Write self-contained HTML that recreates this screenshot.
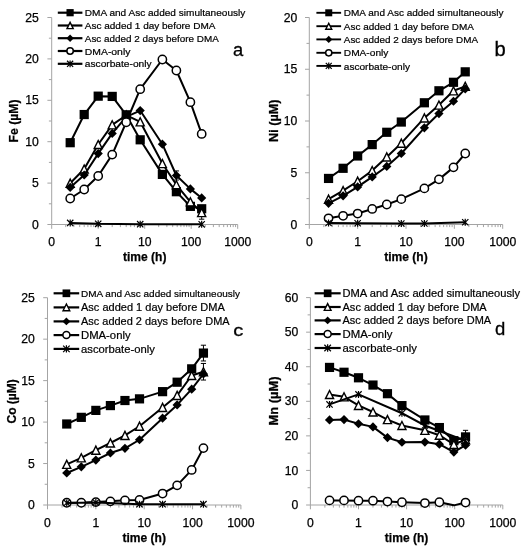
<!DOCTYPE html>
<html><head><meta charset="utf-8"><title>Figure</title>
<style>
html,body{margin:0;padding:0;background:#fff;}
svg{display:block;font-family:"Liberation Sans",sans-serif;}
</style></head><body>
<svg width="527" height="550" viewBox="0 0 527 550">
<rect width="527" height="550" fill="#fff"/>
<g>
<path d="M51.7 17.5V224.5H237.7" fill="none" stroke="#a4a4a4" stroke-width="1"/>
<path d="M47.4 224.5H51.7M48.9 203.8H51.7M47.4 183.1H51.7M48.9 162.4H51.7M47.4 141.7H51.7M48.9 121H51.7M47.4 100.3H51.7M48.9 79.6H51.7M47.4 58.9H51.7M48.9 38.2H51.7M47.4 17.5H51.7M51.7 224.5V228.8M65.7 224.5V227.1M73.89 224.5V227.1M79.7 224.5V227.1M84.2 224.5V227.1M87.88 224.5V227.1M91 224.5V227.1M93.69 224.5V227.1M96.07 224.5V227.1M98.2 224.5V228.8M112.2 224.5V227.1M120.39 224.5V227.1M126.2 224.5V227.1M130.7 224.5V227.1M134.38 224.5V227.1M137.5 224.5V227.1M140.19 224.5V227.1M142.57 224.5V227.1M144.7 224.5V228.8M158.7 224.5V227.1M166.89 224.5V227.1M172.7 224.5V227.1M177.2 224.5V227.1M180.88 224.5V227.1M184 224.5V227.1M186.69 224.5V227.1M189.07 224.5V227.1M191.2 224.5V228.8M205.2 224.5V227.1M213.39 224.5V227.1M219.2 224.5V227.1M223.7 224.5V227.1M227.38 224.5V227.1M230.5 224.5V227.1M233.19 224.5V227.1M235.57 224.5V227.1M237.7 224.5V228.8" fill="none" stroke="#a4a4a4" stroke-width="1"/>
<g font-size="12.2" fill="#000" stroke="#000" stroke-width="0.25">
<text x="38.9" y="228.65" text-anchor="end">0</text>
<text x="38.9" y="187.25" text-anchor="end">5</text>
<text x="38.9" y="145.85" text-anchor="end">10</text>
<text x="38.9" y="104.45" text-anchor="end">15</text>
<text x="38.9" y="63.05" text-anchor="end">20</text>
<text x="38.9" y="21.65" text-anchor="end">25</text>
<text x="51.7" y="246.1" text-anchor="middle">0</text>
<text x="98.2" y="246.1" text-anchor="middle">1</text>
<text x="144.7" y="246.1" text-anchor="middle">10</text>
<text x="191.2" y="246.1" text-anchor="middle">100</text>
<text x="237.7" y="246.1" text-anchor="middle">1000</text>
</g>
<text x="144.7" y="261.2" text-anchor="middle" font-size="12.2" font-weight="bold" stroke="#000" stroke-width="0.25" textLength="43.5" lengthAdjust="spacingAndGlyphs">time (h)</text>
<text transform="translate(18 121) rotate(-90)" text-anchor="middle" font-size="12.2" font-weight="bold" stroke="#000" stroke-width="0.25" textLength="42.9" lengthAdjust="spacingAndGlyphs">Fe (µM)</text>
<path d="M70.2 142.69L84.2 114.54L98.2 96.16L112.2 96.41L126.2 114.79L140.19 139.8L162.38 174.41L176.38 191.71L190.38 206.37L201.68 208.77" fill="none" stroke="#000" stroke-width="2.0" stroke-linejoin="round"/>
<rect x="65.6" y="138.09" width="9.2" height="9.2" fill="#000"/>
<rect x="79.6" y="109.94" width="9.2" height="9.2" fill="#000"/>
<rect x="93.6" y="91.56" width="9.2" height="9.2" fill="#000"/>
<rect x="107.6" y="91.81" width="9.2" height="9.2" fill="#000"/>
<rect x="121.6" y="110.19" width="9.2" height="9.2" fill="#000"/>
<rect x="135.59" y="135.2" width="9.2" height="9.2" fill="#000"/>
<rect x="157.78" y="169.81" width="9.2" height="9.2" fill="#000"/>
<rect x="171.78" y="187.11" width="9.2" height="9.2" fill="#000"/>
<rect x="185.78" y="201.77" width="9.2" height="9.2" fill="#000"/>
<rect x="197.08" y="204.17" width="9.2" height="9.2" fill="#000"/>
<path d="M70.2 183.18L84.2 169.02L98.2 144.52L112.2 124.81L126.2 115.2L140.19 121.83L162.38 163.56L176.38 184.76L190.38 201.81L201.68 212.58" fill="none" stroke="#000" stroke-width="2.0" stroke-linejoin="round"/>
<path d="M201.68 205.95V219.2M199.08 205.95H204.28M199.08 219.2H204.28" fill="none" stroke="#000" stroke-width="1"/>
<path d="M66.15 187.23L70.2 179.13L74.25 187.23Z" fill="#fff" stroke="#000" stroke-width="1.4" stroke-linejoin="miter"/>
<path d="M80.15 173.07L84.2 164.97L88.25 173.07Z" fill="#fff" stroke="#000" stroke-width="1.4" stroke-linejoin="miter"/>
<path d="M94.15 148.57L98.2 140.47L102.25 148.57Z" fill="#fff" stroke="#000" stroke-width="1.4" stroke-linejoin="miter"/>
<path d="M108.15 128.86L112.2 120.76L116.25 128.86Z" fill="#fff" stroke="#000" stroke-width="1.4" stroke-linejoin="miter"/>
<path d="M122.15 119.25L126.2 111.15L130.25 119.25Z" fill="#fff" stroke="#000" stroke-width="1.4" stroke-linejoin="miter"/>
<path d="M136.14 125.88L140.19 117.78L144.24 125.88Z" fill="#fff" stroke="#000" stroke-width="1.4" stroke-linejoin="miter"/>
<path d="M158.33 167.61L162.38 159.51L166.43 167.61Z" fill="#fff" stroke="#000" stroke-width="1.4" stroke-linejoin="miter"/>
<path d="M172.33 188.81L176.38 180.71L180.43 188.81Z" fill="#fff" stroke="#000" stroke-width="1.4" stroke-linejoin="miter"/>
<path d="M186.33 205.86L190.38 197.76L194.43 205.86Z" fill="#fff" stroke="#000" stroke-width="1.4" stroke-linejoin="miter"/>
<path d="M197.63 216.63L201.68 208.53L205.73 216.63Z" fill="#fff" stroke="#000" stroke-width="1.4" stroke-linejoin="miter"/>
<path d="M70.2 187.41L84.2 174.99L98.2 153.62L112.2 133.42L126.2 116.86L140.19 110.57L162.38 144.18L176.38 175.48L190.38 188.9L201.68 197.92" fill="none" stroke="#000" stroke-width="2.0" stroke-linejoin="round"/>
<path d="M176.38 170.93V180.04M173.78 170.93H178.98M173.78 180.04H178.98" fill="none" stroke="#000" stroke-width="1"/>
<path d="M65.6 187.41L70.2 182.81L74.8 187.41L70.2 192.01Z" fill="#000"/>
<path d="M79.6 174.99L84.2 170.39L88.8 174.99L84.2 179.59Z" fill="#000"/>
<path d="M93.6 153.62L98.2 149.02L102.8 153.62L98.2 158.22Z" fill="#000"/>
<path d="M107.6 133.42L112.2 128.82L116.8 133.42L112.2 138.02Z" fill="#000"/>
<path d="M121.6 116.86L126.2 112.26L130.8 116.86L126.2 121.46Z" fill="#000"/>
<path d="M135.59 110.57L140.19 105.97L144.79 110.57L140.19 115.17Z" fill="#000"/>
<path d="M157.78 144.18L162.38 139.58L166.98 144.18L162.38 148.78Z" fill="#000"/>
<path d="M171.78 175.48L176.38 170.88L180.98 175.48L176.38 180.08Z" fill="#000"/>
<path d="M185.78 188.9L190.38 184.3L194.98 188.9L190.38 193.5Z" fill="#000"/>
<path d="M197.08 197.92L201.68 193.32L206.28 197.92L201.68 202.52Z" fill="#000"/>
<path d="M70.2 198.5L84.2 189.48L98.2 175.98L112.2 154.62L126.2 122.24L140.19 89.2L162.38 59.48L176.38 70.49L190.38 102.2L201.68 133.92" fill="none" stroke="#000" stroke-width="2.0" stroke-linejoin="round"/>
<circle cx="70.2" cy="198.5" r="4.15" fill="#fff" stroke="#000" stroke-width="1.5"/>
<circle cx="84.2" cy="189.48" r="4.15" fill="#fff" stroke="#000" stroke-width="1.5"/>
<circle cx="98.2" cy="175.98" r="4.15" fill="#fff" stroke="#000" stroke-width="1.5"/>
<circle cx="112.2" cy="154.62" r="4.15" fill="#fff" stroke="#000" stroke-width="1.5"/>
<circle cx="126.2" cy="122.24" r="4.15" fill="#fff" stroke="#000" stroke-width="1.5"/>
<circle cx="140.19" cy="89.2" r="4.15" fill="#fff" stroke="#000" stroke-width="1.5"/>
<circle cx="162.38" cy="59.48" r="4.15" fill="#fff" stroke="#000" stroke-width="1.5"/>
<circle cx="176.38" cy="70.49" r="4.15" fill="#fff" stroke="#000" stroke-width="1.5"/>
<circle cx="190.38" cy="102.2" r="4.15" fill="#fff" stroke="#000" stroke-width="1.5"/>
<circle cx="201.68" cy="133.92" r="4.15" fill="#fff" stroke="#000" stroke-width="1.5"/>
<path d="M70.2 222.93L98.2 223.84L140.19 224.17L201.68 224.33" fill="none" stroke="#000" stroke-width="2.0" stroke-linejoin="round"/>
<path d="M67.05 219.78L73.35 226.08M67.05 226.08L73.35 219.78M70.2 219.43L70.2 226.43" fill="none" stroke="#000" stroke-width="1.2"/>
<path d="M95.05 220.69L101.35 226.99M95.05 226.99L101.35 220.69M98.2 220.34L98.2 227.34" fill="none" stroke="#000" stroke-width="1.2"/>
<path d="M137.04 221.02L143.34 227.32M137.04 227.32L143.34 221.02M140.19 220.67L140.19 227.67" fill="none" stroke="#000" stroke-width="1.2"/>
<path d="M198.53 221.18L204.83 227.48M198.53 227.48L204.83 221.18M201.68 220.83L201.68 227.83" fill="none" stroke="#000" stroke-width="1.2"/>
<path d="M57.8 12.7H82.4" stroke="#000" stroke-width="2.2"/>
<rect x="66.49" y="9.09" width="7.21" height="7.21" fill="#000"/>
<text x="84.8" y="16.36" font-size="9.5" stroke="#000" stroke-width="0.2" textLength="160.5" lengthAdjust="spacingAndGlyphs">DMA and Asc added simultaneously</text>
<path d="M57.8 25.5H82.4" stroke="#000" stroke-width="2.2"/>
<path d="M66.99 28.61L70.1 22.39L73.21 28.61Z" fill="#fff" stroke="#000" stroke-width="1.4" stroke-linejoin="miter"/>
<text x="84.8" y="29.16" font-size="9.5" stroke="#000" stroke-width="0.2" textLength="130.6" lengthAdjust="spacingAndGlyphs">Asc added 1 day before DMA</text>
<path d="M57.8 38.2H82.4" stroke="#000" stroke-width="2.2"/>
<path d="M66.39 38.2L70.1 34.49L73.81 38.2L70.1 41.91Z" fill="#000"/>
<text x="84.8" y="41.86" font-size="9.5" stroke="#000" stroke-width="0.2" textLength="134" lengthAdjust="spacingAndGlyphs">Asc added 2 days before DMA</text>
<path d="M57.8 51H82.4" stroke="#000" stroke-width="2.2"/>
<circle cx="70.1" cy="51" r="3.22" fill="#fff" stroke="#000" stroke-width="1.5"/>
<text x="84.8" y="54.66" font-size="9.5" stroke="#000" stroke-width="0.2" textLength="45.6" lengthAdjust="spacingAndGlyphs">DMA-only</text>
<path d="M57.8 63.8H82.4" stroke="#000" stroke-width="2.2"/>
<path d="M67.04 60.74L73.16 66.86M67.04 66.86L73.16 60.74M70.1 60.4L70.1 67.2" fill="none" stroke="#000" stroke-width="1.2"/>
<text x="84.8" y="67.46" font-size="9.5" stroke="#000" stroke-width="0.2" textLength="66.8" lengthAdjust="spacingAndGlyphs">ascorbate-only</text>
<text x="233.0" y="56.0" font-size="18.3" stroke="#000" stroke-width="0.3">a</text>
</g>
<g>
<path d="M309.3 17.5V224.5H502.7" fill="none" stroke="#a4a4a4" stroke-width="1"/>
<path d="M305 224.5H309.3M306.5 198.62H309.3M305 172.75H309.3M306.5 146.88H309.3M305 121H309.3M306.5 95.12H309.3M305 69.25H309.3M306.5 43.38H309.3M305 17.5H309.3M309.3 224.5V228.8M323.85 224.5V227.1M332.37 224.5V227.1M338.41 224.5V227.1M343.1 224.5V227.1M346.92 224.5V227.1M350.16 224.5V227.1M352.96 224.5V227.1M355.44 224.5V227.1M357.65 224.5V228.8M372.2 224.5V227.1M380.72 224.5V227.1M386.76 224.5V227.1M391.45 224.5V227.1M395.27 224.5V227.1M398.51 224.5V227.1M401.31 224.5V227.1M403.79 224.5V227.1M406 224.5V228.8M420.55 224.5V227.1M429.07 224.5V227.1M435.11 224.5V227.1M439.8 224.5V227.1M443.62 224.5V227.1M446.86 224.5V227.1M449.66 224.5V227.1M452.14 224.5V227.1M454.35 224.5V228.8M468.9 224.5V227.1M477.42 224.5V227.1M483.46 224.5V227.1M488.15 224.5V227.1M491.97 224.5V227.1M495.21 224.5V227.1M498.01 224.5V227.1M500.49 224.5V227.1M502.7 224.5V228.8" fill="none" stroke="#a4a4a4" stroke-width="1"/>
<g font-size="12.2" fill="#000" stroke="#000" stroke-width="0.25">
<text x="297.2" y="228.65" text-anchor="end">0</text>
<text x="297.2" y="176.9" text-anchor="end">5</text>
<text x="297.2" y="125.15" text-anchor="end">10</text>
<text x="297.2" y="73.4" text-anchor="end">15</text>
<text x="297.2" y="21.65" text-anchor="end">20</text>
<text x="309.3" y="246.1" text-anchor="middle">0</text>
<text x="357.65" y="246.1" text-anchor="middle">1</text>
<text x="406" y="246.1" text-anchor="middle">10</text>
<text x="454.35" y="246.1" text-anchor="middle">100</text>
<text x="502.7" y="246.1" text-anchor="middle">1000</text>
</g>
<text x="406" y="261.2" text-anchor="middle" font-size="12.2" font-weight="bold" stroke="#000" stroke-width="0.25" textLength="43.5" lengthAdjust="spacingAndGlyphs">time (h)</text>
<text transform="translate(277.7 120.8) rotate(-90)" text-anchor="middle" font-size="12.2" font-weight="bold" stroke="#000" stroke-width="0.25" textLength="42.3" lengthAdjust="spacingAndGlyphs">Ni (µM)</text>
<path d="M328.54 178.44L343.1 168.3L357.65 155.98L372.2 144.6L386.76 132.28L401.31 122.03L424.38 102.78L438.94 90.78L453.49 82.29L465.24 71.84" fill="none" stroke="#000" stroke-width="2.0" stroke-linejoin="round"/>
<rect x="323.94" y="173.84" width="9.2" height="9.2" fill="#000"/>
<rect x="338.5" y="163.7" width="9.2" height="9.2" fill="#000"/>
<rect x="353.05" y="151.38" width="9.2" height="9.2" fill="#000"/>
<rect x="367.6" y="140" width="9.2" height="9.2" fill="#000"/>
<rect x="382.16" y="127.68" width="9.2" height="9.2" fill="#000"/>
<rect x="396.71" y="117.44" width="9.2" height="9.2" fill="#000"/>
<rect x="419.78" y="98.18" width="9.2" height="9.2" fill="#000"/>
<rect x="434.34" y="86.18" width="9.2" height="9.2" fill="#000"/>
<rect x="448.89" y="77.69" width="9.2" height="9.2" fill="#000"/>
<rect x="460.64" y="67.24" width="9.2" height="9.2" fill="#000"/>
<path d="M328.54 199.14L343.1 190.66L357.65 181.24L372.2 170.58L386.76 156.91L401.31 143.15L424.38 117.89L438.94 105.06L453.49 90.78L465.24 86.33" fill="none" stroke="#000" stroke-width="2.0" stroke-linejoin="round"/>
<path d="M324.49 203.19L328.54 195.09L332.59 203.19Z" fill="#fff" stroke="#000" stroke-width="1.4" stroke-linejoin="miter"/>
<path d="M339.05 194.71L343.1 186.61L347.15 194.71Z" fill="#fff" stroke="#000" stroke-width="1.4" stroke-linejoin="miter"/>
<path d="M353.6 185.29L357.65 177.19L361.7 185.29Z" fill="#fff" stroke="#000" stroke-width="1.4" stroke-linejoin="miter"/>
<path d="M368.15 174.63L372.2 166.53L376.25 174.63Z" fill="#fff" stroke="#000" stroke-width="1.4" stroke-linejoin="miter"/>
<path d="M382.71 160.96L386.76 152.86L390.81 160.96Z" fill="#fff" stroke="#000" stroke-width="1.4" stroke-linejoin="miter"/>
<path d="M397.26 147.2L401.31 139.1L405.36 147.2Z" fill="#fff" stroke="#000" stroke-width="1.4" stroke-linejoin="miter"/>
<path d="M420.33 121.94L424.38 113.84L428.43 121.94Z" fill="#fff" stroke="#000" stroke-width="1.4" stroke-linejoin="miter"/>
<path d="M434.89 109.11L438.94 101.01L442.99 109.11Z" fill="#fff" stroke="#000" stroke-width="1.4" stroke-linejoin="miter"/>
<path d="M449.44 94.83L453.49 86.73L457.54 94.83Z" fill="#fff" stroke="#000" stroke-width="1.4" stroke-linejoin="miter"/>
<path d="M461.19 90.38L465.24 82.28L469.29 90.38Z" fill="#fff" stroke="#000" stroke-width="1.4" stroke-linejoin="miter"/>
<path d="M328.54 203.28L343.1 195.83L357.65 186.93L372.2 176.89L386.76 166.44L401.31 153.5L424.38 127.83L438.94 113.55L453.49 101.23L465.24 88.92" fill="none" stroke="#000" stroke-width="2.0" stroke-linejoin="round"/>
<path d="M323.94 203.28L328.54 198.68L333.14 203.28L328.54 207.88Z" fill="#000"/>
<path d="M338.5 195.83L343.1 191.23L347.7 195.83L343.1 200.43Z" fill="#000"/>
<path d="M353.05 186.93L357.65 182.33L362.25 186.93L357.65 191.53Z" fill="#000"/>
<path d="M367.6 176.89L372.2 172.29L376.8 176.89L372.2 181.49Z" fill="#000"/>
<path d="M382.16 166.44L386.76 161.84L391.36 166.44L386.76 171.04Z" fill="#000"/>
<path d="M396.71 153.5L401.31 148.9L405.91 153.5L401.31 158.1Z" fill="#000"/>
<path d="M419.78 127.83L424.38 123.23L428.98 127.83L424.38 132.43Z" fill="#000"/>
<path d="M434.34 113.55L438.94 108.95L443.54 113.55L438.94 118.15Z" fill="#000"/>
<path d="M448.89 101.23L453.49 96.63L458.09 101.23L453.49 105.83Z" fill="#000"/>
<path d="M460.64 88.92L465.24 84.32L469.84 88.92L465.24 93.52Z" fill="#000"/>
<path d="M328.54 218.29L343.1 215.81L357.65 213.53L372.2 208.97L386.76 204.52L401.31 199.14L424.38 188.38L438.94 179.37L453.49 167.37L465.24 153.5" fill="none" stroke="#000" stroke-width="2.0" stroke-linejoin="round"/>
<circle cx="328.54" cy="218.29" r="4.15" fill="#fff" stroke="#000" stroke-width="1.5"/>
<circle cx="343.1" cy="215.81" r="4.15" fill="#fff" stroke="#000" stroke-width="1.5"/>
<circle cx="357.65" cy="213.53" r="4.15" fill="#fff" stroke="#000" stroke-width="1.5"/>
<circle cx="372.2" cy="208.97" r="4.15" fill="#fff" stroke="#000" stroke-width="1.5"/>
<circle cx="386.76" cy="204.52" r="4.15" fill="#fff" stroke="#000" stroke-width="1.5"/>
<circle cx="401.31" cy="199.14" r="4.15" fill="#fff" stroke="#000" stroke-width="1.5"/>
<circle cx="424.38" cy="188.38" r="4.15" fill="#fff" stroke="#000" stroke-width="1.5"/>
<circle cx="438.94" cy="179.37" r="4.15" fill="#fff" stroke="#000" stroke-width="1.5"/>
<circle cx="453.49" cy="167.37" r="4.15" fill="#fff" stroke="#000" stroke-width="1.5"/>
<circle cx="465.24" cy="153.5" r="4.15" fill="#fff" stroke="#000" stroke-width="1.5"/>
<path d="M328.54 222.95L357.65 223.26L401.31 223.47L424.38 223.47L465.24 222.22" fill="none" stroke="#000" stroke-width="2.0" stroke-linejoin="round"/>
<path d="M325.39 219.8L331.69 226.1M325.39 226.1L331.69 219.8M328.54 219.45L328.54 226.45" fill="none" stroke="#000" stroke-width="1.2"/>
<path d="M354.5 220.11L360.8 226.41M354.5 226.41L360.8 220.11M357.65 219.76L357.65 226.76" fill="none" stroke="#000" stroke-width="1.2"/>
<path d="M398.16 220.31L404.46 226.62M398.16 226.62L404.46 220.31M401.31 219.97L401.31 226.97" fill="none" stroke="#000" stroke-width="1.2"/>
<path d="M421.23 220.31L427.53 226.62M421.23 226.62L427.53 220.31M424.38 219.97L424.38 226.97" fill="none" stroke="#000" stroke-width="1.2"/>
<path d="M462.09 219.07L468.39 225.37M462.09 225.37L468.39 219.07M465.24 218.72L465.24 225.72" fill="none" stroke="#000" stroke-width="1.2"/>
<path d="M316.4 12.8H341.1" stroke="#000" stroke-width="1.9"/>
<rect x="325.25" y="9.3" width="7" height="7" fill="#000"/>
<text x="343.8" y="16.46" font-size="9.5" stroke="#000" stroke-width="0.2" textLength="159.7" lengthAdjust="spacingAndGlyphs">DMA and Asc added simultaneously</text>
<path d="M316.4 26.2H341.1" stroke="#000" stroke-width="1.9"/>
<path d="M325.75 29.2L328.75 23.2L331.75 29.2Z" fill="#fff" stroke="#000" stroke-width="1.4" stroke-linejoin="miter"/>
<text x="343.8" y="29.86" font-size="9.5" stroke="#000" stroke-width="0.2" textLength="130.1" lengthAdjust="spacingAndGlyphs">Asc added 1 day before DMA</text>
<path d="M316.4 39.4H341.1" stroke="#000" stroke-width="1.9"/>
<path d="M325.15 39.4L328.75 35.8L332.35 39.4L328.75 43Z" fill="#000"/>
<text x="343.8" y="43.06" font-size="9.5" stroke="#000" stroke-width="0.2" textLength="134.2" lengthAdjust="spacingAndGlyphs">Asc added 2 days before DMA</text>
<path d="M316.4 52.8H341.1" stroke="#000" stroke-width="1.9"/>
<circle cx="328.75" cy="52.8" r="3.1" fill="#fff" stroke="#000" stroke-width="1.5"/>
<text x="343.8" y="56.46" font-size="9.5" stroke="#000" stroke-width="0.2" textLength="44.6" lengthAdjust="spacingAndGlyphs">DMA-only</text>
<path d="M316.4 65.9H341.1" stroke="#000" stroke-width="1.9"/>
<path d="M325.78 62.93L331.72 68.87M325.78 68.87L331.72 62.93M328.75 62.6L328.75 69.2" fill="none" stroke="#000" stroke-width="1.2"/>
<text x="343.8" y="69.56" font-size="9.5" stroke="#000" stroke-width="0.2" textLength="66.2" lengthAdjust="spacingAndGlyphs">ascorbate-only</text>
<text x="494.4" y="56.0" font-size="20.2" stroke="#000" stroke-width="0.3">b</text>
</g>
<g>
<path d="M47.5 297.7V505H240.9" fill="none" stroke="#a4a4a4" stroke-width="1"/>
<path d="M43.2 505H47.5M44.7 484.27H47.5M43.2 463.54H47.5M44.7 442.81H47.5M43.2 422.08H47.5M44.7 401.35H47.5M43.2 380.62H47.5M44.7 359.89H47.5M43.2 339.16H47.5M44.7 318.43H47.5M43.2 297.7H47.5M47.5 505V509.3M62.05 505V507.6M70.57 505V507.6M76.61 505V507.6M81.3 505V507.6M85.12 505V507.6M88.36 505V507.6M91.16 505V507.6M93.64 505V507.6M95.85 505V509.3M110.4 505V507.6M118.92 505V507.6M124.96 505V507.6M129.65 505V507.6M133.47 505V507.6M136.71 505V507.6M139.51 505V507.6M141.99 505V507.6M144.2 505V509.3M158.75 505V507.6M167.27 505V507.6M173.31 505V507.6M178 505V507.6M181.82 505V507.6M185.06 505V507.6M187.86 505V507.6M190.34 505V507.6M192.55 505V509.3M207.1 505V507.6M215.62 505V507.6M221.66 505V507.6M226.35 505V507.6M230.17 505V507.6M233.41 505V507.6M236.21 505V507.6M238.69 505V507.6M240.9 505V509.3" fill="none" stroke="#a4a4a4" stroke-width="1"/>
<g font-size="12.2" fill="#000" stroke="#000" stroke-width="0.25">
<text x="34.7" y="509.15" text-anchor="end">0</text>
<text x="34.7" y="467.69" text-anchor="end">5</text>
<text x="34.7" y="426.23" text-anchor="end">10</text>
<text x="34.7" y="384.77" text-anchor="end">15</text>
<text x="34.7" y="343.31" text-anchor="end">20</text>
<text x="34.7" y="301.85" text-anchor="end">25</text>
<text x="47.5" y="526.9" text-anchor="middle">0</text>
<text x="95.85" y="526.9" text-anchor="middle">1</text>
<text x="144.2" y="526.9" text-anchor="middle">10</text>
<text x="192.55" y="526.9" text-anchor="middle">100</text>
<text x="240.9" y="526.9" text-anchor="middle">1000</text>
</g>
<text x="144.2" y="541.7" text-anchor="middle" font-size="12.2" font-weight="bold" stroke="#000" stroke-width="0.25" textLength="43.5" lengthAdjust="spacingAndGlyphs">time (h)</text>
<text transform="translate(15.5 401.4) rotate(-90)" text-anchor="middle" font-size="12.2" font-weight="bold" stroke="#000" stroke-width="0.25" textLength="44.2" lengthAdjust="spacingAndGlyphs">Co (µM)</text>
<path d="M66.74 423.99L81.3 417.35L95.85 410.39L110.4 405.58L124.96 400.52L139.51 398.86L162.58 391.65L177.14 382.2L191.69 368.85L203.44 353.09" fill="none" stroke="#000" stroke-width="2.0" stroke-linejoin="round"/>
<path d="M203.44 345.21V360.97M200.84 345.21H206.04M200.84 360.97H206.04" fill="none" stroke="#000" stroke-width="1"/>
<rect x="62.14" y="419.39" width="9.2" height="9.2" fill="#000"/>
<rect x="76.7" y="412.75" width="9.2" height="9.2" fill="#000"/>
<rect x="91.25" y="405.79" width="9.2" height="9.2" fill="#000"/>
<rect x="105.8" y="400.98" width="9.2" height="9.2" fill="#000"/>
<rect x="120.36" y="395.92" width="9.2" height="9.2" fill="#000"/>
<rect x="134.91" y="394.26" width="9.2" height="9.2" fill="#000"/>
<rect x="157.98" y="387.05" width="9.2" height="9.2" fill="#000"/>
<rect x="172.54" y="377.6" width="9.2" height="9.2" fill="#000"/>
<rect x="187.09" y="364.25" width="9.2" height="9.2" fill="#000"/>
<rect x="198.84" y="348.49" width="9.2" height="9.2" fill="#000"/>
<path d="M66.74 464.37L81.3 457.82L95.85 450.19L110.4 442.98L124.96 435.43L139.51 426.23L162.58 407.4L177.14 395.46L191.69 375.48L203.44 371.75" fill="none" stroke="#000" stroke-width="2.0" stroke-linejoin="round"/>
<path d="M203.44 363.46V380.04M200.84 363.46H206.04M200.84 380.04H206.04" fill="none" stroke="#000" stroke-width="1"/>
<path d="M62.69 468.42L66.74 460.32L70.79 468.42Z" fill="#fff" stroke="#000" stroke-width="1.4" stroke-linejoin="miter"/>
<path d="M77.25 461.87L81.3 453.77L85.35 461.87Z" fill="#fff" stroke="#000" stroke-width="1.4" stroke-linejoin="miter"/>
<path d="M91.8 454.24L95.85 446.14L99.9 454.24Z" fill="#fff" stroke="#000" stroke-width="1.4" stroke-linejoin="miter"/>
<path d="M106.35 447.03L110.4 438.93L114.45 447.03Z" fill="#fff" stroke="#000" stroke-width="1.4" stroke-linejoin="miter"/>
<path d="M120.91 439.48L124.96 431.38L129.01 439.48Z" fill="#fff" stroke="#000" stroke-width="1.4" stroke-linejoin="miter"/>
<path d="M135.46 430.28L139.51 422.18L143.56 430.28Z" fill="#fff" stroke="#000" stroke-width="1.4" stroke-linejoin="miter"/>
<path d="M158.53 411.45L162.58 403.35L166.63 411.45Z" fill="#fff" stroke="#000" stroke-width="1.4" stroke-linejoin="miter"/>
<path d="M173.09 399.51L177.14 391.41L181.19 399.51Z" fill="#fff" stroke="#000" stroke-width="1.4" stroke-linejoin="miter"/>
<path d="M187.64 379.53L191.69 371.43L195.74 379.53Z" fill="#fff" stroke="#000" stroke-width="1.4" stroke-linejoin="miter"/>
<path d="M199.39 375.8L203.44 367.7L207.49 375.8Z" fill="#fff" stroke="#000" stroke-width="1.4" stroke-linejoin="miter"/>
<path d="M66.74 472.99L81.3 466.86L95.85 460.06L110.4 453.01L124.96 448.28L139.51 439.74L162.58 418.18L177.14 404.92L191.69 389.16L203.44 373.99" fill="none" stroke="#000" stroke-width="2.0" stroke-linejoin="round"/>
<path d="M62.14 472.99L66.74 468.39L71.34 472.99L66.74 477.59Z" fill="#000"/>
<path d="M76.7 466.86L81.3 462.26L85.9 466.86L81.3 471.46Z" fill="#000"/>
<path d="M91.25 460.06L95.85 455.46L100.45 460.06L95.85 464.66Z" fill="#000"/>
<path d="M105.8 453.01L110.4 448.41L115 453.01L110.4 457.61Z" fill="#000"/>
<path d="M120.36 448.28L124.96 443.68L129.56 448.28L124.96 452.88Z" fill="#000"/>
<path d="M134.91 439.74L139.51 435.14L144.11 439.74L139.51 444.34Z" fill="#000"/>
<path d="M157.98 418.18L162.58 413.58L167.18 418.18L162.58 422.78Z" fill="#000"/>
<path d="M172.54 404.92L177.14 400.32L181.74 404.92L177.14 409.52Z" fill="#000"/>
<path d="M187.09 389.16L191.69 384.56L196.29 389.16L191.69 393.76Z" fill="#000"/>
<path d="M198.84 373.99L203.44 369.39L208.04 373.99L203.44 378.59Z" fill="#000"/>
<path d="M66.74 502.76L81.3 502.76L95.85 502.1L110.4 501.35L124.96 500.36L139.51 500.02L162.58 493.56L177.14 485.35L191.69 469.92L203.44 448.12" fill="none" stroke="#000" stroke-width="2.0" stroke-linejoin="round"/>
<circle cx="66.74" cy="502.76" r="4.15" fill="#fff" stroke="#000" stroke-width="1.5"/>
<circle cx="81.3" cy="502.76" r="4.15" fill="#fff" stroke="#000" stroke-width="1.5"/>
<circle cx="95.85" cy="502.1" r="4.15" fill="#fff" stroke="#000" stroke-width="1.5"/>
<circle cx="110.4" cy="501.35" r="4.15" fill="#fff" stroke="#000" stroke-width="1.5"/>
<circle cx="124.96" cy="500.36" r="4.15" fill="#fff" stroke="#000" stroke-width="1.5"/>
<circle cx="139.51" cy="500.02" r="4.15" fill="#fff" stroke="#000" stroke-width="1.5"/>
<circle cx="162.58" cy="493.56" r="4.15" fill="#fff" stroke="#000" stroke-width="1.5"/>
<circle cx="177.14" cy="485.35" r="4.15" fill="#fff" stroke="#000" stroke-width="1.5"/>
<circle cx="191.69" cy="469.92" r="4.15" fill="#fff" stroke="#000" stroke-width="1.5"/>
<circle cx="203.44" cy="448.12" r="4.15" fill="#fff" stroke="#000" stroke-width="1.5"/>
<path d="M66.74 502.93L95.85 502.51L139.51 504.17L162.58 504.17L203.44 504.17" fill="none" stroke="#000" stroke-width="2.0" stroke-linejoin="round"/>
<path d="M63.59 499.78L69.89 506.08M63.59 506.08L69.89 499.78M66.74 499.43L66.74 506.43" fill="none" stroke="#000" stroke-width="1.2"/>
<path d="M92.7 499.36L99 505.66M92.7 505.66L99 499.36M95.85 499.01L95.85 506.01" fill="none" stroke="#000" stroke-width="1.2"/>
<path d="M136.36 501.02L142.66 507.32M136.36 507.32L142.66 501.02M139.51 500.67L139.51 507.67" fill="none" stroke="#000" stroke-width="1.2"/>
<path d="M159.43 501.02L165.73 507.32M159.43 507.32L165.73 501.02M162.58 500.67L162.58 507.67" fill="none" stroke="#000" stroke-width="1.2"/>
<path d="M200.29 501.02L206.59 507.32M200.29 507.32L206.59 501.02M203.44 500.67L203.44 507.67" fill="none" stroke="#000" stroke-width="1.2"/>
<path d="M53.6 293.3H79.2" stroke="#000" stroke-width="2.2"/>
<rect x="62.55" y="289.45" width="7.7" height="7.7" fill="#000"/>
<text x="81" y="296.96" font-size="9.5" stroke="#000" stroke-width="0.2" textLength="158.9" lengthAdjust="spacingAndGlyphs">DMA and Asc added simultaneously</text>
<path d="M53.6 307.4H79.2" stroke="#000" stroke-width="2.2"/>
<path d="M63.03 310.77L66.4 304.03L69.77 310.77Z" fill="#fff" stroke="#000" stroke-width="1.4" stroke-linejoin="miter"/>
<text x="81" y="311.44" font-size="10.5" stroke="#000" stroke-width="0.2" textLength="143.8" lengthAdjust="spacingAndGlyphs">Asc added 1 day before DMA</text>
<path d="M53.6 321.4H79.2" stroke="#000" stroke-width="2.2"/>
<path d="M62.44 321.4L66.4 317.44L70.36 321.4L66.4 325.36Z" fill="#000"/>
<text x="81" y="325.44" font-size="10.5" stroke="#000" stroke-width="0.2" textLength="148.6" lengthAdjust="spacingAndGlyphs">Asc added 2 days before DMA</text>
<path d="M53.6 335.1H79.2" stroke="#000" stroke-width="2.2"/>
<circle cx="66.4" cy="335.1" r="3.49" fill="#fff" stroke="#000" stroke-width="1.5"/>
<text x="81" y="339.14" font-size="10.5" stroke="#000" stroke-width="0.2" textLength="49.6" lengthAdjust="spacingAndGlyphs">DMA-only</text>
<path d="M53.6 348.9H79.2" stroke="#000" stroke-width="2.2"/>
<path d="M63.13 345.63L69.67 352.17M63.13 352.17L69.67 345.63M66.4 345.27L66.4 352.53" fill="none" stroke="#000" stroke-width="1.2"/>
<text x="81" y="352.94" font-size="10.5" stroke="#000" stroke-width="0.2" textLength="73.8" lengthAdjust="spacingAndGlyphs">ascorbate-only</text>
<text x="233.3" y="335.8" font-size="17" stroke="#000" stroke-width="0.3" textLength="10.0" lengthAdjust="spacingAndGlyphs">c</text>
</g>
<g>
<path d="M310.4 297.6V505H502.8" fill="none" stroke="#a4a4a4" stroke-width="1"/>
<path d="M306.1 505H310.4M307.6 487.72H310.4M306.1 470.43H310.4M307.6 453.15H310.4M306.1 435.87H310.4M307.6 418.58H310.4M306.1 401.3H310.4M307.6 384.02H310.4M306.1 366.73H310.4M307.6 349.45H310.4M306.1 332.17H310.4M307.6 314.88H310.4M306.1 297.6H310.4M310.4 505V509.3M324.88 505V507.6M333.35 505V507.6M339.36 505V507.6M344.02 505V507.6M347.83 505V507.6M351.05 505V507.6M353.84 505V507.6M356.3 505V507.6M358.5 505V509.3M372.98 505V507.6M381.45 505V507.6M387.46 505V507.6M392.12 505V507.6M395.93 505V507.6M399.15 505V507.6M401.94 505V507.6M404.4 505V507.6M406.6 505V509.3M421.08 505V507.6M429.55 505V507.6M435.56 505V507.6M440.22 505V507.6M444.03 505V507.6M447.25 505V507.6M450.04 505V507.6M452.5 505V507.6M454.7 505V509.3M469.18 505V507.6M477.65 505V507.6M483.66 505V507.6M488.32 505V507.6M492.13 505V507.6M495.35 505V507.6M498.14 505V507.6M500.6 505V507.6M502.8 505V509.3" fill="none" stroke="#a4a4a4" stroke-width="1"/>
<g font-size="12.2" fill="#000" stroke="#000" stroke-width="0.25">
<text x="298.2" y="509.15" text-anchor="end">0</text>
<text x="298.2" y="474.58" text-anchor="end">10</text>
<text x="298.2" y="440.02" text-anchor="end">20</text>
<text x="298.2" y="405.45" text-anchor="end">30</text>
<text x="298.2" y="370.88" text-anchor="end">40</text>
<text x="298.2" y="336.32" text-anchor="end">50</text>
<text x="298.2" y="301.75" text-anchor="end">60</text>
<text x="310.4" y="526.9" text-anchor="middle">0</text>
<text x="358.5" y="526.9" text-anchor="middle">1</text>
<text x="406.6" y="526.9" text-anchor="middle">10</text>
<text x="454.7" y="526.9" text-anchor="middle">100</text>
<text x="502.8" y="526.9" text-anchor="middle">1000</text>
</g>
<text x="406.6" y="541.7" text-anchor="middle" font-size="12.2" font-weight="bold" stroke="#000" stroke-width="0.25" textLength="43.5" lengthAdjust="spacingAndGlyphs">time (h)</text>
<text transform="translate(277.7 400.9) rotate(-90)" text-anchor="middle" font-size="12.2" font-weight="bold" stroke="#000" stroke-width="0.25" textLength="49.1" lengthAdjust="spacingAndGlyphs">Mn (µM)</text>
<path d="M329.54 367.42L344.02 372.26L358.5 377.79L372.98 385.05L387.46 393.7L401.94 405.62L424.89 419.97L439.37 427.57L453.85 440.71L465.54 436.9" fill="none" stroke="#000" stroke-width="2.0" stroke-linejoin="round"/>
<path d="M465.54 430.34V443.47M462.94 430.34H468.14M462.94 443.47H468.14" fill="none" stroke="#000" stroke-width="1"/>
<rect x="324.94" y="362.82" width="9.2" height="9.2" fill="#000"/>
<rect x="339.42" y="367.66" width="9.2" height="9.2" fill="#000"/>
<rect x="353.9" y="373.19" width="9.2" height="9.2" fill="#000"/>
<rect x="368.38" y="380.45" width="9.2" height="9.2" fill="#000"/>
<rect x="382.86" y="389.1" width="9.2" height="9.2" fill="#000"/>
<rect x="397.34" y="401.02" width="9.2" height="9.2" fill="#000"/>
<rect x="420.29" y="415.37" width="9.2" height="9.2" fill="#000"/>
<rect x="434.77" y="422.97" width="9.2" height="9.2" fill="#000"/>
<rect x="449.25" y="436.11" width="9.2" height="9.2" fill="#000"/>
<rect x="460.94" y="432.3" width="9.2" height="9.2" fill="#000"/>
<path d="M329.54 394.52L344.02 396.81L358.5 405.45L372.98 412.02L387.46 419.62L401.94 425.5L424.89 430.34L439.37 435.18L453.85 444.51L465.54 439.67" fill="none" stroke="#000" stroke-width="2.0" stroke-linejoin="round"/>
<path d="M325.49 398.57L329.54 390.47L333.59 398.57Z" fill="#fff" stroke="#000" stroke-width="1.4" stroke-linejoin="miter"/>
<path d="M339.97 400.86L344.02 392.76L348.07 400.86Z" fill="#fff" stroke="#000" stroke-width="1.4" stroke-linejoin="miter"/>
<path d="M354.45 409.5L358.5 401.4L362.55 409.5Z" fill="#fff" stroke="#000" stroke-width="1.4" stroke-linejoin="miter"/>
<path d="M368.93 416.07L372.98 407.97L377.03 416.07Z" fill="#fff" stroke="#000" stroke-width="1.4" stroke-linejoin="miter"/>
<path d="M383.41 423.67L387.46 415.57L391.51 423.67Z" fill="#fff" stroke="#000" stroke-width="1.4" stroke-linejoin="miter"/>
<path d="M397.89 429.55L401.94 421.45L405.99 429.55Z" fill="#fff" stroke="#000" stroke-width="1.4" stroke-linejoin="miter"/>
<path d="M420.84 434.39L424.89 426.29L428.94 434.39Z" fill="#fff" stroke="#000" stroke-width="1.4" stroke-linejoin="miter"/>
<path d="M435.32 439.23L439.37 431.13L443.42 439.23Z" fill="#fff" stroke="#000" stroke-width="1.4" stroke-linejoin="miter"/>
<path d="M449.8 448.56L453.85 440.46L457.9 448.56Z" fill="#fff" stroke="#000" stroke-width="1.4" stroke-linejoin="miter"/>
<path d="M461.49 443.72L465.54 435.62L469.59 443.72Z" fill="#fff" stroke="#000" stroke-width="1.4" stroke-linejoin="miter"/>
<path d="M329.54 419.97L344.02 419.62L358.5 423.77L372.98 426.88L387.46 437.6L401.94 442.26L424.89 442.09L439.37 444.16L453.85 452.11L465.54 445.2" fill="none" stroke="#000" stroke-width="2.0" stroke-linejoin="round"/>
<path d="M324.94 419.97L329.54 415.37L334.14 419.97L329.54 424.57Z" fill="#000"/>
<path d="M339.42 419.62L344.02 415.02L348.62 419.62L344.02 424.22Z" fill="#000"/>
<path d="M353.9 423.77L358.5 419.17L363.1 423.77L358.5 428.37Z" fill="#000"/>
<path d="M368.38 426.88L372.98 422.28L377.58 426.88L372.98 431.48Z" fill="#000"/>
<path d="M382.86 437.6L387.46 433L392.06 437.6L387.46 442.2Z" fill="#000"/>
<path d="M397.34 442.26L401.94 437.66L406.54 442.26L401.94 446.86Z" fill="#000"/>
<path d="M420.29 442.09L424.89 437.49L429.49 442.09L424.89 446.69Z" fill="#000"/>
<path d="M434.77 444.16L439.37 439.56L443.97 444.16L439.37 448.76Z" fill="#000"/>
<path d="M449.25 452.11L453.85 447.51L458.45 452.11L453.85 456.71Z" fill="#000"/>
<path d="M460.94 445.2L465.54 440.6L470.14 445.2L465.54 449.8Z" fill="#000"/>
<path d="M329.54 500.4L344.02 500.4L358.5 500.71L372.98 500.71L387.46 501.54L401.94 502.23L424.89 503.03L439.37 502.23L453.85 505.35L465.54 502.58" fill="none" stroke="#000" stroke-width="2.0" stroke-linejoin="round"/>
<circle cx="329.54" cy="500.4" r="4.15" fill="#fff" stroke="#000" stroke-width="1.5"/>
<circle cx="344.02" cy="500.4" r="4.15" fill="#fff" stroke="#000" stroke-width="1.5"/>
<circle cx="358.5" cy="500.71" r="4.15" fill="#fff" stroke="#000" stroke-width="1.5"/>
<circle cx="372.98" cy="500.71" r="4.15" fill="#fff" stroke="#000" stroke-width="1.5"/>
<circle cx="387.46" cy="501.54" r="4.15" fill="#fff" stroke="#000" stroke-width="1.5"/>
<circle cx="401.94" cy="502.23" r="4.15" fill="#fff" stroke="#000" stroke-width="1.5"/>
<circle cx="424.89" cy="503.03" r="4.15" fill="#fff" stroke="#000" stroke-width="1.5"/>
<circle cx="439.37" cy="502.23" r="4.15" fill="#fff" stroke="#000" stroke-width="1.5"/>
<circle cx="465.54" cy="502.58" r="4.15" fill="#fff" stroke="#000" stroke-width="1.5"/>
<path d="M329.54 404.41L358.5 394.39L401.94 413.23L424.89 425.5L465.54 440.71" fill="none" stroke="#000" stroke-width="2.0" stroke-linejoin="round"/>
<path d="M326.39 401.26L332.69 407.56M326.39 407.56L332.69 401.26M329.54 400.91L329.54 407.91" fill="none" stroke="#000" stroke-width="1.2"/>
<path d="M355.35 391.24L361.65 397.54M355.35 397.54L361.65 391.24M358.5 390.89L358.5 397.89" fill="none" stroke="#000" stroke-width="1.2"/>
<path d="M398.79 410.08L405.09 416.38M398.79 416.38L405.09 410.08M401.94 409.73L401.94 416.73" fill="none" stroke="#000" stroke-width="1.2"/>
<path d="M421.74 422.35L428.04 428.65M421.74 428.65L428.04 422.35M424.89 422L424.89 429" fill="none" stroke="#000" stroke-width="1.2"/>
<path d="M462.39 437.56L468.69 443.86M462.39 443.86L468.69 437.56M465.54 437.21L465.54 444.21" fill="none" stroke="#000" stroke-width="1.2"/>
<path d="M314.6 293.3H340.7" stroke="#000" stroke-width="2.2"/>
<rect x="323.8" y="289.45" width="7.7" height="7.7" fill="#000"/>
<text x="342.5" y="297.34" font-size="10.5" stroke="#000" stroke-width="0.2" textLength="177.5" lengthAdjust="spacingAndGlyphs">DMA and Asc added simultaneously</text>
<path d="M314.6 307H340.7" stroke="#000" stroke-width="2.2"/>
<path d="M324.28 310.37L327.65 303.63L331.02 310.37Z" fill="#fff" stroke="#000" stroke-width="1.4" stroke-linejoin="miter"/>
<text x="342.5" y="311.04" font-size="10.5" stroke="#000" stroke-width="0.2" textLength="144.2" lengthAdjust="spacingAndGlyphs">Asc added 1 day before DMA</text>
<path d="M314.6 320.4H340.7" stroke="#000" stroke-width="2.2"/>
<path d="M323.69 320.4L327.65 316.44L331.61 320.4L327.65 324.36Z" fill="#000"/>
<text x="342.5" y="324.44" font-size="10.5" stroke="#000" stroke-width="0.2" textLength="148.6" lengthAdjust="spacingAndGlyphs">Asc added 2 days before DMA</text>
<path d="M314.6 334.1H340.7" stroke="#000" stroke-width="2.2"/>
<circle cx="327.65" cy="334.1" r="3.49" fill="#fff" stroke="#000" stroke-width="1.5"/>
<text x="342.5" y="338.14" font-size="10.5" stroke="#000" stroke-width="0.2" textLength="49.9" lengthAdjust="spacingAndGlyphs">DMA-only</text>
<path d="M314.6 348H340.7" stroke="#000" stroke-width="2.2"/>
<path d="M324.38 344.73L330.92 351.27M324.38 351.27L330.92 344.73M327.65 344.37L327.65 351.63" fill="none" stroke="#000" stroke-width="1.2"/>
<text x="342.5" y="352.04" font-size="10.5" stroke="#000" stroke-width="0.2" textLength="74.4" lengthAdjust="spacingAndGlyphs">ascorbate-only</text>
<text x="494.9" y="335.4" font-size="18.5" stroke="#000" stroke-width="0.3">d</text>
</g>
</svg>
</body></html>
